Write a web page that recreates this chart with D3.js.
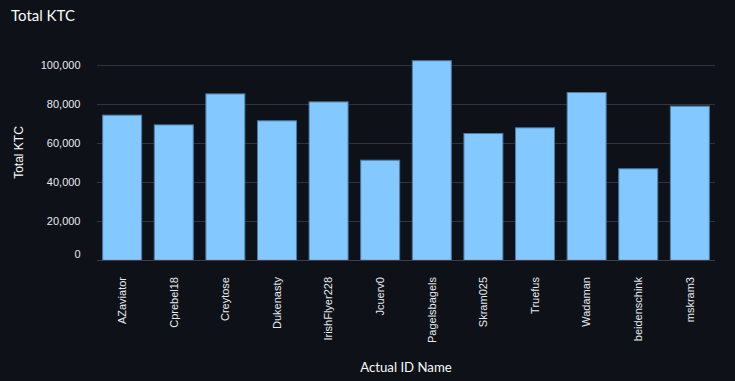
<!DOCTYPE html>
<html><head><meta charset="utf-8">
<script src="https://cdn.jsdelivr.net/npm/d3@7"></script>
<style>
html,body{margin:0;padding:0;background:#0e1117;}
svg{display:block;}
</style></head>
<body>
<script>
const names = ["AZaviator","Cprebel18","Creytose","Dukenasty","IrishFlyer228","Jcuerv0","Pagelsbagels","Skram025","Truefus","Wadaman","beidenschink","mskram3"];
const totalKTC = [74700,69700,85600,71800,81500,51600,102600,65300,68200,86300,47200,79300];
const yTicks = [0,20000,40000,60000,80000,100000];
const chartTitle = "Total KTC";
const xTitle = "Actual ID Name";
const yTitle = "Total KTC";

const W=735,H=381;
const svg=d3.select("body").append("svg").attr("width",W).attr("height",H);
svg.append("rect").attr("width",W).attr("height",H).attr("fill","#0e1117");

const x=d3.scaleBand().domain(names).range([97,715]).paddingInner(0.225).paddingOuter(0.1);
const y=d3.scaleLinear().domain([0,110000]).range([260.3,45.8]);

// gridlines
svg.append("g").selectAll("line").data(yTicks.filter(d=>d>0)).join("line")
  .attr("x1",97).attr("x2",715).attr("y1",d=>Math.round(y(d))+0.5).attr("y2",d=>Math.round(y(d))+0.5)
  .attr("stroke","#31333f").attr("stroke-width",1);

// y tick labels
svg.append("g").selectAll("text").data(yTicks).join("text")
  .attr("x",80.5).attr("y",d=>d===0?y(d)-2:y(d))
  .attr("dy",d=>d===0?"0":"0.35em")
  .attr("text-anchor","end")
  .attr("font-family","'Liberation Sans',Arial,sans-serif").attr("font-size",11)
  .attr("fill","#e6eaf1")
  .text(d=>d3.format(",")(d));

// bars
svg.append("g").selectAll("rect").data(names).join("rect")
  .attr("x",d=>x(d)+0.5).attr("width",x.bandwidth()-1)
  .attr("y",(d,i)=>y(totalKTC[i])+0.5).attr("height",(d,i)=>y(0)-y(totalKTC[i])-0.5)
  .attr("fill","#83c9ff").attr("stroke","#4a7aa5").attr("stroke-width",1);

// domain line
svg.append("line").attr("x1",97).attr("x2",715).attr("y1",260.5).attr("y2",260.5)
  .attr("stroke","#3a3d4a").attr("stroke-width",1);

// x tick labels
svg.append("g").selectAll("text").data(names).join("text")
  .attr("transform",d=>`translate(${x(d)+x.bandwidth()/2},277) rotate(-90)`)
  .attr("dy","0.35em").attr("text-anchor","end")
  .attr("font-family","'Liberation Sans',Arial,sans-serif").attr("font-size",11)
  .attr("fill","#e6eaf1").text(d=>d);

// axis titles
svg.append("text").attr("transform","translate(23,152.5) rotate(-90)")
  .attr("text-anchor","middle")
  .attr("font-family","'Liberation Sans',Arial,sans-serif").attr("font-size",12)
  .attr("fill","#fafafa").text(yTitle);
svg.append("text").attr("x",406).attr("y",372).attr("text-anchor","middle")
  .attr("font-family","Lato,'Noto Sans',sans-serif").attr("font-size",13.2)
  .attr("fill","#fafafa").text(xTitle);

// chart title
svg.append("text").attr("x",11).attr("y",21).attr("font-family","Lato,'Noto Sans',sans-serif")
  .attr("font-size",15).attr("fill","#fafafa").text(chartTitle);
</script>
</body></html>
